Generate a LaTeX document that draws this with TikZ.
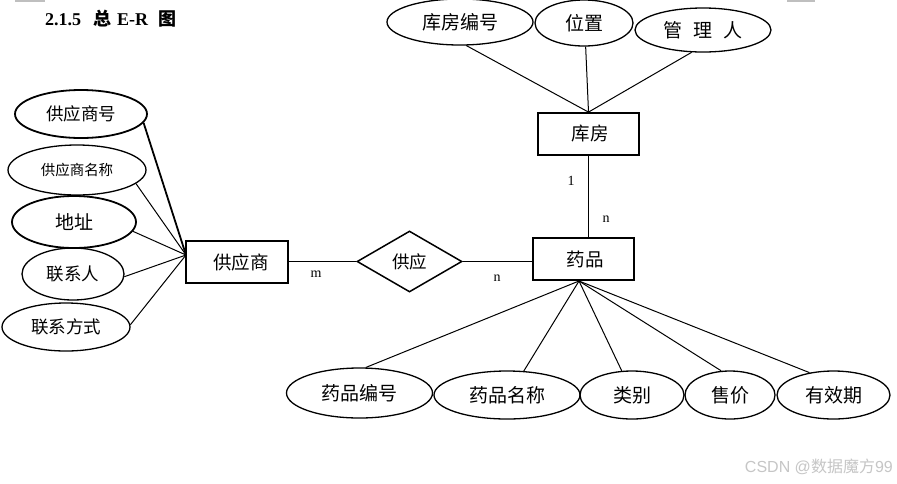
\documentclass[tikz,border=0pt]{standalone}
\usepackage{fontspec}
\setmainfont{Liberation Serif}
\newfontfamily\cjk{Noto Sans CJK SC}
\newfontfamily\wmsans{Liberation Sans}
\usetikzlibrary{shapes.geometric}
\tikzset{
  attr/.style={ellipse, draw, line width=1.3pt, inner sep=0pt, font=\cjk\fontsize{19}{19}\selectfont},
  ent/.style={rectangle, draw, line width=1.8pt, inner sep=0pt, font=\cjk\fontsize{18.5}{18.5}\selectfont},
  rel/.style={diamond, draw, line width=1.5pt, inner sep=0pt, aspect=1.7, font=\cjk\fontsize{17.5}{17.5}\selectfont},
  conn/.style={line width=1pt},
  card/.style={font=\fontsize{14}{14}\selectfont, inner sep=0pt},
}
\begin{document}
\begin{tikzpicture}[x=1pt,y=-1pt]
\useasboundingbox (0,0) rectangle (897,483);
\fill[white] (0,0) rectangle (897,483);
% gray bars at top
\fill[gray!50] (15,0) rectangle (45,1.5);
\fill[gray!50] (787,0) rectangle (815,1.5);
% title
\node[anchor=west, inner sep=0pt, font=\bfseries\fontsize{18}{18}\selectfont] (title) at (45,19)
  {2.1.5\hspace{0.7em}{\cjk\bfseries 总}\hspace{0.3em}E-R\hspace{0.55em}{\cjk\bfseries 图}};
% entities
\node[ent, minimum width=102pt, minimum height=42pt] (gys) at (237,262) {\hspace{8pt}供应商};
\node[ent, minimum width=101pt, minimum height=42pt] (kf) at (588.5,134) {\hspace{3pt}库房};
\node[ent, minimum width=101pt, minimum height=42pt] (yp) at (583.5,259) {\hspace{3pt}药品};
% relationship
\node[rel, minimum width=105pt, minimum height=61pt] (gy) at (409.5,261.5) {供应};
% supplier attributes
\node[attr, line width=1.8pt, minimum width=132pt, minimum height=48pt, font=\cjk\fontsize{17.5}{17.5}\selectfont] (a1) at (81,114) {供应商号};
\node[attr, minimum width=138pt, minimum height=50pt, font=\cjk\fontsize{14.5}{14.5}\selectfont] (a2) at (77,170) {供应商名称};
\node[attr, line width=1.8pt, minimum width=124pt, minimum height=52pt] (a3) at (74,222) {地址};
\node[attr, minimum width=102pt, minimum height=52pt, font=\cjk\fontsize{17.5}{17.5}\selectfont] (a4) at (73,274) {联系人};
\node[attr, minimum width=128pt, minimum height=48pt, font=\cjk\fontsize{17.5}{17.5}\selectfont] (a5) at (66,327) {联系方式};
\coordinate (gyc) at (186,255);
\draw[line width=1.8pt] (a1.-8) -- (gyc);
\draw[conn] (a2.-13) -- (gyc);
\draw[conn] (a3.-9) -- (gyc);
\draw[conn] (a4.-3) -- (gyc);
\draw[conn] (a5.2) -- (gyc);
% warehouse attributes
\node[attr, minimum width=146pt, minimum height=46pt] (k1) at (460,22) {库房编号};
\node[attr, minimum width=98pt, minimum height=46pt] (k2) at (584,23) {位置};
\node[attr, minimum width=136pt, minimum height=44pt] (k3) at (703,30) {管\hspace{0.6em}理\hspace{0.6em}人};
\draw[conn] (k1.-75) -- (kf.north);
\draw[conn] (k2.-86) -- (kf.north);
\draw[conn] (k3.-117) -- (kf.north);
% medicine attributes
\node[attr, minimum width=146pt, minimum height=50pt] (m1) at (359.5,393) {药品编号};
\node[attr, minimum width=146pt, minimum height=48pt] (m2) at (507,395) {药品名称};
\node[attr, minimum width=104pt, minimum height=48pt] (m3) at (632,395) {类别};
\node[attr, minimum width=90pt, minimum height=48pt] (m4) at (730,395) {售价};
\node[attr, minimum width=113pt, minimum height=48pt] (m5) at (833.5,395) {有效期};
\coordinate (ypc) at (579,281);
\draw[conn] (m1.76) -- (ypc);
\draw[conn] (m2.55) -- (ypc);
\draw[conn] (m3.113) -- (ypc);
\draw[conn] (m4.110) -- (ypc);
\draw[conn] (m5.137) -- (ypc);
% relationship connectors
\draw[conn] (gys.east |- gy.west) -- (gy.west);
\draw[conn] (gy.east) -- (gy.east -| yp.west);
\draw[conn] (kf.south) -- (kf.south |- yp.north);
% cardinalities
\node[card] (cm) at (316,274) {m};
\node[card] (cn1) at (497,278) {n};
\node[card] (c1) at (571,181) {1};
\node[card] (cn2) at (606,219) {n};
% watermark
\node[anchor=east, inner sep=0pt, text=gray!45, font=\wmsans\fontsize{16}{16}\selectfont] (wm) at (893,467)
  {CSDN @{\cjk 数据魔方}99};
\end{tikzpicture}
\end{document}
